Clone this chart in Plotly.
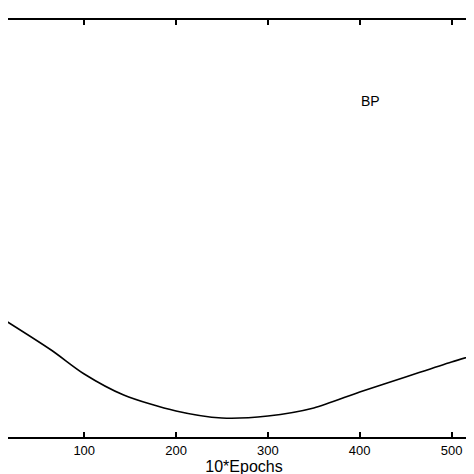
import plotly.graph_objects as go

epochs = [8, 64, 100, 143, 200, 250, 300, 350, 400, 450, 500, 540]
error = [120, 87, 63, 42, 26, 19, 21, 29, 45, 60, 75, 86]

fig = go.Figure(go.Scatter(x=epochs, y=error, mode="lines", line=dict(color="black", width=1.6, shape="spline", smoothing=0.8)))
fig.add_annotation(x=412, y=336, text="BP", showarrow=False, font=dict(size=14, color="black"))
fig.update_layout(
    width=474, height=474, margin=dict(l=0, r=0, t=12, b=45),
    plot_bgcolor="white", paper_bgcolor="white", showlegend=False,
    font=dict(family="Liberation Sans, Arial", color="black", size=13),
)
fig.update_xaxes(range=[17, 531], tickvals=[100, 200, 300, 400, 500], ticks="inside", ticklen=5,
                 tickwidth=1.5, tickcolor="black",
                 showgrid=False, zeroline=False, showline=True, linecolor="black", linewidth=2, mirror="allticks",
                 title=dict(text="10*Epochs", standoff=4))
fig.update_yaxes(range=[0, 417], showticklabels=False, showgrid=False, zeroline=False,
                 showline=True, linecolor="black", linewidth=2, mirror=True)
fig.write_html("out.html")
